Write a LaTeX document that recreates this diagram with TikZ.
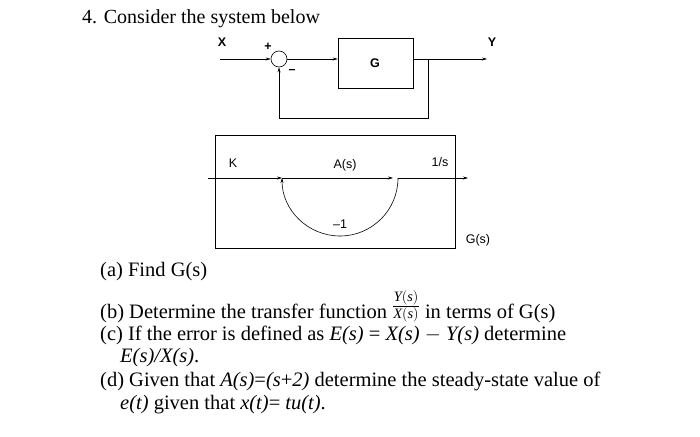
\documentclass[tikz,border=0pt]{standalone}
\usepackage{fontspec}
\setmainfont{Liberation Serif}
\setsansfont{Liberation Sans}
\usetikzlibrary{arrows.meta}
\begin{document}
\begin{tikzpicture}[x=1pt,y=-1pt,
  ln/.style={line width=0.6pt},
  arr/.style={ln,-{Stealth[length=5pt,width=3pt]}},
  lbl/.style={font=\sffamily\fontsize{12.5}{14}\selectfont},
  txt/.style={anchor=base west,inner sep=0,font=\fontsize{20.5}{24}\selectfont}]
\useasboundingbox (0,0) rectangle (700,436);
% top
\node[txt,font=\fontsize{20}{24}\selectfont] (title) at (82,24) {4. Consider the system below};
\coordinate (xin) at (220,59);
\node[circle,draw,ln,minimum size=16pt,inner sep=0] (sum) at (279,59) {};
\node[draw,ln,minimum width=75pt,minimum height=50pt] (g) at (375.5,63) {};
\node[lbl] at (375,63) {\textbf{G}};
\coordinate (yout) at (487,59);
\coordinate (br) at (428,59);
\coordinate (fb) at (428,118);
\coordinate (fb2) at (279,118);
\draw[arr] (xin) -- (sum.west);
\draw[arr] (sum.east) -- (g.west |- sum.east);
\draw[arr] (g.east |- yout) -- (yout);
\draw[arr] (br) -- (fb) -- (fb2) -- (sum.south);
\node[lbl] at (222,42) {\textbf{X}};
\node[lbl] at (492,42) {\textbf{Y}};
\node[lbl] at (268,47) {\textbf{+}};
\node[lbl] at (292,72) {\textbf{--}};
% bottom
\node[draw,ln,minimum width=240pt,minimum height=113pt] (gb) at (335,191.5) {};
\coordinate (a0) at (208,178);
\coordinate (a1) at (282,178);
\coordinate (a2) at (393,178);
\coordinate (a3) at (398,178);
\coordinate (a4) at (468,178);
\draw[arr] (a0) -- (a1);
\draw[arr] (a1) -- (a2);
\draw[arr] (a3) -- (a4);
\draw[arr] (a3) arc[start angle=0,end angle=180,radius=58];
\node[lbl] at (233,163) {K};
\node[lbl] at (345,165) {A(s)};
\node[lbl] at (440,162) {1/s};
\node[lbl] at (340,224) {--1};
\node[lbl] at (478,240) {G(s)};
% text
\node[txt] (ta) at (100,276) {(a) Find G(s)};
\node[txt] (tb) at (100,318) {(b) Determine the transfer function \raisebox{7pt}{$\frac{\mathit{Y(s)}}{\mathit{X(s)}}$} in terms of G(s)};
\node[txt] (tc) at (100,340) {(c) If the error is defined as \textit{E(s)} = \textit{X(s)} $-$ \textit{Y(s)} determine};
\node[txt] (tc2) at (120,362) {\textit{E(s)/X(s)}.};
\node[txt] (td) at (100,386) {(d) Given that \textit{A(s)}=\textit{(s}+\textit{2)} determine the steady-state value of};
\node[txt] (td2) at (120,409) {\textit{e(t)} given that \textit{x(t)}= \textit{tu(t)}.};
\end{tikzpicture}
\end{document}
